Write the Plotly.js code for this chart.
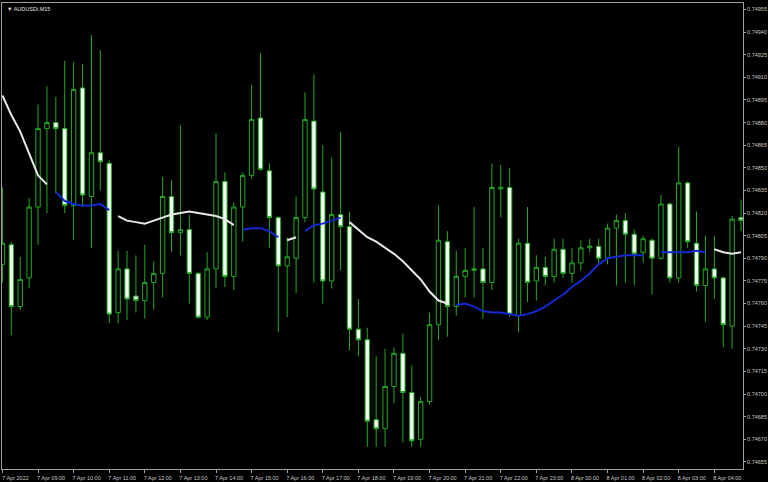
<!DOCTYPE html>
<html><head><meta charset="utf-8">
<script src="https://cdn.plot.ly/plotly-3.0.1.min.js"></script>
<style>html,body{margin:0;padding:0;background:#000;}#chart{width:768px;height:482px;}</style>
</head><body><div id="chart"></div>
<script>
const times = [
"2022-04-07 08:00","2022-04-07 08:15","2022-04-07 08:30","2022-04-07 08:45",
"2022-04-07 09:00","2022-04-07 09:15","2022-04-07 09:30","2022-04-07 09:45",
"2022-04-07 10:00","2022-04-07 10:15","2022-04-07 10:30","2022-04-07 10:45",
"2022-04-07 11:00","2022-04-07 11:15","2022-04-07 11:30","2022-04-07 11:45",
"2022-04-07 12:00","2022-04-07 12:15","2022-04-07 12:30","2022-04-07 12:45",
"2022-04-07 13:00","2022-04-07 13:15","2022-04-07 13:30","2022-04-07 13:45",
"2022-04-07 14:00","2022-04-07 14:15","2022-04-07 14:30","2022-04-07 14:45",
"2022-04-07 15:00","2022-04-07 15:15","2022-04-07 15:30","2022-04-07 15:45",
"2022-04-07 16:00","2022-04-07 16:15","2022-04-07 16:30","2022-04-07 16:45",
"2022-04-07 17:00","2022-04-07 17:15","2022-04-07 17:30","2022-04-07 17:45",
"2022-04-07 18:00","2022-04-07 18:15","2022-04-07 18:30","2022-04-07 18:45",
"2022-04-07 19:00","2022-04-07 19:15","2022-04-07 19:30","2022-04-07 19:45",
"2022-04-07 20:00","2022-04-07 20:15","2022-04-07 20:30","2022-04-07 20:45",
"2022-04-07 21:00","2022-04-07 21:15","2022-04-07 21:30","2022-04-07 21:45",
"2022-04-07 22:00","2022-04-07 22:15","2022-04-07 22:30","2022-04-07 22:45",
"2022-04-07 23:00","2022-04-07 23:15","2022-04-07 23:30","2022-04-07 23:45",
"2022-04-08 00:00","2022-04-08 00:15","2022-04-08 00:30","2022-04-08 00:45",
"2022-04-08 01:00","2022-04-08 01:15","2022-04-08 01:30","2022-04-08 01:45",
"2022-04-08 02:00","2022-04-08 02:15","2022-04-08 02:30","2022-04-08 02:45",
"2022-04-08 03:00","2022-04-08 03:15","2022-04-08 03:30","2022-04-08 03:45",
"2022-04-08 04:00","2022-04-08 04:15","2022-04-08 04:30","2022-04-08 04:45"];

const open = [0.74786,0.74799,0.74758,0.74777,0.74824,0.74876,0.74880,0.74876,0.74825,0.74903,
0.74831,0.74860,0.74853,0.74754,0.74783,0.74765,0.74762,0.74774,0.74780,0.74831,
0.74807,0.74809,0.74780,0.74751,0.74783,0.74841,0.74778,0.74824,0.74845,0.74883,
0.74848,0.74817,0.74785,0.74790,0.74817,0.74881,0.74834,0.74775,0.74819,0.74811,
0.74743,0.74736,0.74683,0.74677,0.74705,0.74727,0.74701,0.74670,0.74695,0.74746,
0.74801,0.74758,0.74778,0.74782,0.74783,0.74774,0.74836,0.74837,0.74752,0.74800,
0.74775,0.74784,0.74778,0.74796,0.74780,0.74787,0.74797,0.74798,0.74790,0.74810,
0.74815,0.74806,0.74794,0.74802,0.74790,0.74826,0.74777,0.74840,0.74800,0.74772,
0.74783,0.74777,0.74745,0.74817];
const high = [0.74837,0.74801,0.74791,0.74830,0.74892,0.74904,0.74897,0.74921,0.74920,0.74919,
0.74938,0.74928,0.74855,0.74795,0.74795,0.74792,0.74799,0.74788,0.74844,0.74842,
0.74878,0.74819,0.74781,0.74794,0.74873,0.74847,0.74827,0.74847,0.74905,0.74926,
0.74853,0.74818,0.74804,0.74831,0.74900,0.74912,0.74865,0.74857,0.74874,0.74821,
0.74763,0.74744,0.74725,0.74730,0.74731,0.74740,0.74719,0.74698,0.74754,0.74825,
0.74808,0.74795,0.74797,0.74824,0.74797,0.74853,0.74852,0.74850,0.74803,0.74824,
0.74792,0.74791,0.74803,0.74803,0.74797,0.74802,0.74803,0.74803,0.74813,0.74819,
0.74820,0.74809,0.74805,0.74803,0.74832,0.74827,0.74864,0.74841,0.74821,0.74805,
0.74805,0.74778,0.74818,0.74829];
const low = [0.74774,0.74739,0.74756,0.74770,0.74799,0.74820,0.74833,0.74820,0.74802,0.74824,
0.74797,0.74835,0.74747,0.74747,0.74749,0.74754,0.74750,0.74756,0.74764,0.74794,
0.74792,0.74760,0.74750,0.74749,0.74770,0.74771,0.74769,0.74801,0.74843,0.74848,
0.74797,0.74741,0.74751,0.74767,0.74814,0.74774,0.74760,0.74770,0.74782,0.74729,
0.74725,0.74665,0.74665,0.74665,0.74694,0.74668,0.74665,0.74665,0.74693,0.74736,
0.74738,0.74752,0.74764,0.74764,0.74750,0.74769,0.74817,0.74751,0.74741,0.74761,
0.74762,0.74772,0.74774,0.74777,0.74774,0.74782,0.74794,0.74786,0.74786,0.74772,
0.74774,0.74772,0.74787,0.74766,0.74789,0.74774,0.74774,0.74797,0.74768,0.74748,
0.74763,0.74731,0.74730,0.74808];
const close = [0.74800,0.74758,0.74776,0.74824,0.74876,0.74880,0.74876,0.74825,0.74902,0.74832,
0.74860,0.74854,0.74753,0.74783,0.74763,0.74762,0.74774,0.74780,0.74831,0.74807,
0.74809,0.74780,0.74751,0.74783,0.74841,0.74778,0.74824,0.74845,0.74882,0.74849,
0.74817,0.74785,0.74791,0.74817,0.74882,0.74836,0.74775,0.74819,0.74811,0.74743,
0.74736,0.74682,0.74677,0.74705,0.74727,0.74701,0.74669,0.74695,0.74746,0.74802,
0.74758,0.74778,0.74782,0.74783,0.74774,0.74837,0.74837,0.74753,0.74800,0.74774,
0.74784,0.74778,0.74796,0.74780,0.74787,0.74797,0.74798,0.74790,0.74810,0.74815,
0.74806,0.74793,0.74803,0.74790,0.74826,0.74777,0.74840,0.74801,0.74772,0.74783,
0.74777,0.74746,0.74816,0.74815];

// moving average, split into its two colour buffers (null = not drawn)
const maWhite = [0.74898,0.74885,0.74874,0.74859,0.74845,0.74839,null,null,null,null,
null,null,null,0.74818,0.74815,0.74814,0.74813,0.74815,0.74817,0.74819,
0.74820,0.74821,0.74820,0.74819,0.74818,0.74816,0.74812,null,null,null,
null,null,0.74802,0.74804,null,null,null,null,null,0.74814,
0.74809,0.74804,0.74801,0.74797,0.74793,0.74788,0.74782,0.74776,0.74768,0.74762,
0.74760,null,null,null,null,null,null,null,null,null,
null,null,null,null,null,null,null,null,null,null,
null,null,null,0.74794,null,null,null,null,null,null,
0.74796,0.74794,0.74793,0.74794];
const maBlue = [null,null,null,null,null,null,0.74834,0.74828,0.74826,0.74825,
0.74825,0.74826,0.74822,null,null,null,null,null,null,null,
null,null,null,null,null,null,null,0.74809,0.74810,0.74810,
0.74808,0.74804,null,null,0.74808,0.74812,0.74813,0.74815,0.74817,null,
null,null,null,null,null,null,null,null,null,null,
null,0.74759,0.74760,0.74758,0.74755,0.74754,0.74754,0.74753,0.74752,0.74753,
0.74755,0.74758,0.74762,0.74766,0.74771,0.74775,0.74780,0.74786,0.74790,0.74791,
0.74792,0.74792,0.74792,null,0.74794,0.74794,0.74794,0.74794,0.74795,0.74794,
null,null,null,null];

const priceTicks = [0.74655,0.74670,0.74685,0.74700,0.74715,0.74730,0.74745,0.74760,0.74775,0.74790,
0.74805,0.74820,0.74835,0.74850,0.74865,0.74880,0.74895,0.74910,0.74925,0.74940,0.74955];
const timeTicks = ["2022-04-07 08:00","2022-04-07 09:00","2022-04-07 10:00","2022-04-07 11:00",
"2022-04-07 12:00","2022-04-07 13:00","2022-04-07 14:00","2022-04-07 15:00","2022-04-07 16:00",
"2022-04-07 17:00","2022-04-07 18:00","2022-04-07 19:00","2022-04-07 20:00","2022-04-07 21:00",
"2022-04-07 22:00","2022-04-07 23:00","2022-04-08 00:00","2022-04-08 01:00","2022-04-08 02:00",
"2022-04-08 03:00","2022-04-08 04:00"];
const timeLabels = ["7 Apr 2022","7 Apr 09:00","7 Apr 10:00","7 Apr 11:00","7 Apr 12:00",
"7 Apr 13:00","7 Apr 14:00","7 Apr 15:00","7 Apr 16:00","7 Apr 17:00","7 Apr 18:00",
"7 Apr 19:00","7 Apr 20:00","7 Apr 21:00","7 Apr 22:00","7 Apr 23:00","8 Apr 00:00",
"8 Apr 01:00","8 Apr 02:00","8 Apr 03:00","8 Apr 04:00"];
const symbolTitle = "\u25BC AUDUSDi,M15";

const green = '#24a824';
const traces = [
  {type:'candlestick', x:times, open:open, high:high, low:low, close:close,
   increasing:{line:{color:green,width:1}, fillcolor:'#000000'},
   decreasing:{line:{color:green,width:1}, fillcolor:'#f4fff4'},
   whiskerwidth:0, showlegend:false, hoverinfo:'skip'},
  {type:'scatter', mode:'lines', x:times, y:maWhite, connectgaps:false,
   line:{color:'#e8e8e8', width:2}, showlegend:false, hoverinfo:'skip'},
  {type:'scatter', mode:'lines', x:times, y:maBlue, connectgaps:false,
   line:{color:'#1428d0', width:2}, showlegend:false, hoverinfo:'skip'}
];

const layout = {
  width:768, height:482,
  margin:{l:2, r:25, t:3, b:13, pad:0},
  paper_bgcolor:'#000000', plot_bgcolor:'#000000',
  showlegend:false,
  font:{family:'Liberation Sans', color:'#c8c8c8', size:6},
  xaxis:{type:'date', range:['2022-04-07 07:59:15','2022-04-08 04:48:20'],
    rangeslider:{visible:false}, showgrid:false, zeroline:false,
    showline:true, mirror:true, linecolor:'#a0a0a0', linewidth:1,
    ticks:'outside', ticklen:3, tickcolor:'#a0a0a0',
    tickvals:timeTicks, ticktext:timeLabels, ticklabelshift:13, ticklabelstandoff:0,
    tickfont:{size:5.5, color:'#c8c8c8', family:'Liberation Sans'}},
  yaxis:{range:[0.746503,0.749593], side:'right', showgrid:false, zeroline:false,
    showline:true, mirror:true, linecolor:'#a0a0a0', linewidth:1,
    ticks:'outside', ticklen:2, tickcolor:'#a0a0a0',
    tickvals:priceTicks, tickformat:'.5f', ticklabelstandoff:0,
    tickfont:{size:5.5, color:'#c8c8c8', family:'Liberation Sans'}},
  annotations:[{text:symbolTitle, xref:'paper', yref:'paper', x:0.004, y:0.997,
    xanchor:'left', yanchor:'top', showarrow:false,
    font:{size:5.5, color:'#e0e0e0', family:'Liberation Sans'}}]
};

Plotly.newPlot('chart', traces, layout, {staticPlot:true, displayModeBar:false});
</script></body></html>
